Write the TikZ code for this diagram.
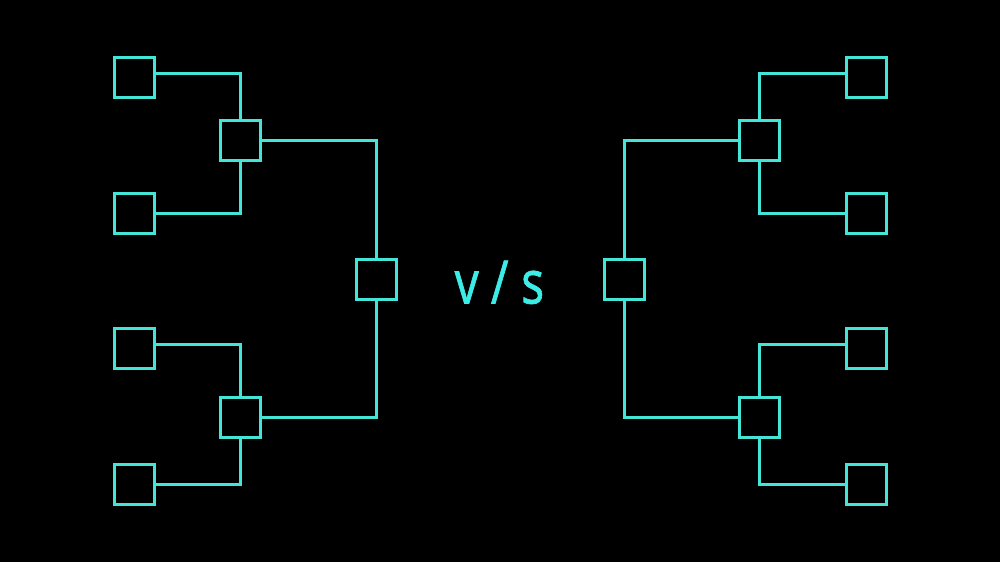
\documentclass[tikz,border=0pt]{standalone}
\usepackage{fontspec}
\newfontfamily\vsfont{Open Sans}[FakeBold=1.3]
\definecolor{neon}{RGB}{68,228,214}
\definecolor{neontext}{RGB}{60,236,230}
\newcommand{\vsglyph}[1]{\makebox[33pt][c]{\scalebox{0.8}[1]{#1}}}
\begin{document}
\begin{tikzpicture}[x=1pt,y=-1pt,
  box/.style={draw=neon, line width=3pt, minimum width=40pt, minimum height=40pt, inner sep=0pt, fill=black},
  wire/.style={draw=neon, line width=3pt}]
\fill[black] (0,0) rectangle (1000,562);
\useasboundingbox (0,0) rectangle (1000,562);
% left side
\node[box] (L1) at (134.5,77) {};
\node[box] (L2) at (134.5,213) {};
\node[box] (L3) at (134.5,348) {};
\node[box] (L4) at (134.5,484) {};
\node[box] (M1) at (240.5,140.5) {};
\node[box] (M2) at (240.5,417) {};
\node[box] (C1) at (376,279.5) {};
% right side
\node[box] (R1) at (866,77) {};
\node[box] (R2) at (866,213) {};
\node[box] (R3) at (866,348) {};
\node[box] (R4) at (866,484) {};
\node[box] (N1) at (759.5,140.5) {};
\node[box] (N2) at (759.5,417) {};
\node[box] (C2) at (624,279.5) {};
% connectors left
\draw[wire] ([yshift=4pt]L1.east) -| (M1.north);
\draw[wire] (M1.south) |- (L2.east);
\draw[wire] ([yshift=4pt]L3.east) -| (M2.north);
\draw[wire] (M2.south) |- (L4.east);
\draw[wire] (M1.east) -| (C1.north);
\draw[wire] (M2.east) -| (C1.south);
% connectors right
\draw[wire] ([yshift=4pt]R1.west) -| (N1.north);
\draw[wire] (N1.south) |- (R2.west);
\draw[wire] ([yshift=4pt]R3.west) -| (N2.north);
\draw[wire] (N2.south) |- (R4.west);
\draw[wire] (N1.west) -| (C2.north);
\draw[wire] (N2.west) -| (C2.south);
% label
\node[text=neontext, inner sep=0pt, anchor=base, font=\vsfont\fontsize{60}{60}\selectfont] (vs) at (499.7,303.5) {\vsglyph{v}\vsglyph{/}\vsglyph{s}};
\end{tikzpicture}
\end{document}
